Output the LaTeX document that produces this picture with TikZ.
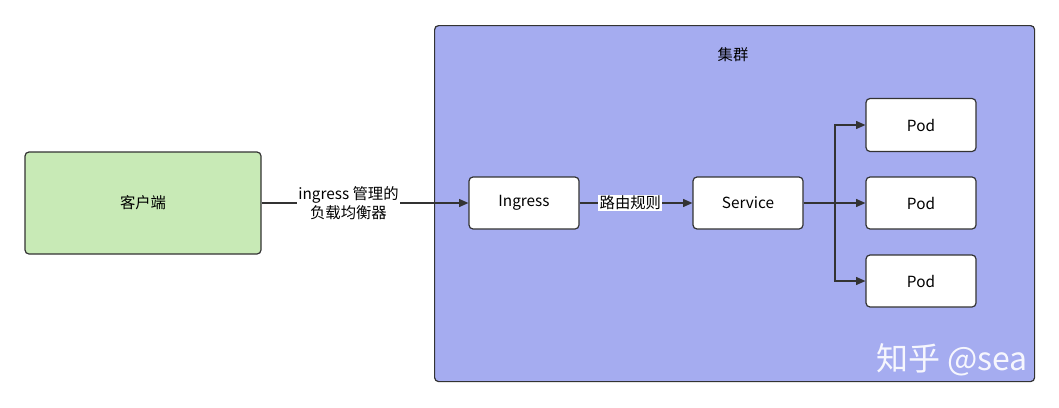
\documentclass[tikz,border=0pt]{standalone}
\usepackage{fontspec}
\setmainfont{Noto Sans CJK SC}
\usetikzlibrary{arrows.meta}
\definecolor{clus}{RGB}{165,172,240}
\definecolor{cli}{RGB}{200,234,182}
\begin{document}
\begin{tikzpicture}[x=0.75pt,y=-0.75pt,
  box/.style={draw=black!80,line width=0.9pt,rounded corners=3pt,fill=white,font=\fontsize{11.5}{13}\selectfont},
  arr/.style={draw=black!80,line width=0.9pt,-{Triangle[length=7pt,width=6pt]}},
  lbl/.style={fill=white,inner sep=1pt,font=\fontsize{11.5}{14}\selectfont,align=center}]
\useasboundingbox (0,0) rectangle (1059,407);
\node[draw=black!80,line width=0.9pt,rounded corners=3pt,fill=clus,minimum width=600*0.75pt,minimum height=356*0.75pt,anchor=north west] (cl) at (434,25) {};
\node[font=\fontsize{11.5}{13}\selectfont] (t) at (733,55) {集群};
\node[box,fill=cli,minimum width=236*0.75pt,minimum height=102*0.75pt] (c) at (143,203) {客户端};
\node[box,minimum width=110*0.75pt,minimum height=52*0.75pt] (i) at (524,203) {Ingress};
\node[box,minimum width=110*0.75pt,minimum height=52*0.75pt] (s) at (748,203) {Service};
\node[box,minimum width=110*0.75pt,minimum height=53*0.75pt] (p1) at (921,125) {Pod};
\node[box,minimum width=110*0.75pt,minimum height=52*0.75pt] (p2) at (921,203) {Pod};
\node[box,minimum width=110*0.75pt,minimum height=52*0.75pt] (p3) at (921,281) {Pod};
\draw[arr] (c) -- (i) node[lbl,pos=0.42] (l1) {ingress 管理的\\负载均衡器};
\draw[arr] (i) -- (s) node[lbl,pos=0.45] (l2) {路由规则};
\coordinate (f) at (835,203);
\draw[draw=black!80,line width=0.9pt] (s) -- (f);
\draw[arr] (f) |- (p1);
\draw[arr] (f) -- (p2);
\draw[arr] (f) |- (p3);
\node[text=white,opacity=0.9,font=\fontsize{24}{28}\selectfont] (w) at (952,360) {知乎 @sea};
\end{tikzpicture}
\end{document}
